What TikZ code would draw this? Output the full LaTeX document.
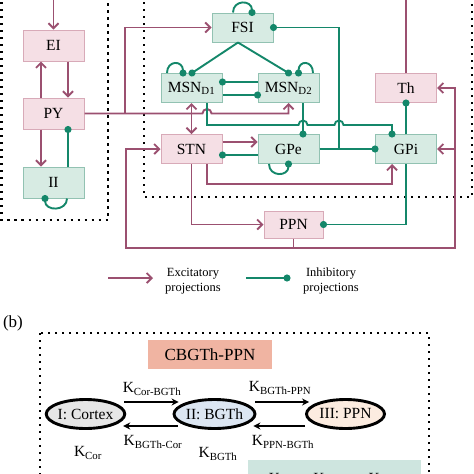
\documentclass[tikz,border=0pt]{standalone}
\usepackage{fontspec}
\setmainfont{Liberation Serif}
\usetikzlibrary{calc,arrows.meta,shapes.geometric}
\definecolor{excline}{RGB}{155,80,112}
\definecolor{inhline}{RGB}{20,135,106}
\definecolor{pinkfill}{RGB}{245,223,229}
\definecolor{pinkedge}{RGB}{216,170,184}
\definecolor{greenfill}{RGB}{215,235,227}
\definecolor{greenedge}{RGB}{146,194,178}
\definecolor{cortexfill}{RGB}{230,230,230}
\definecolor{bgthfill}{RGB}{220,230,242}
\definecolor{ppnfill}{RGB}{252,236,224}
\definecolor{titlefill}{RGB}{240,180,162}
\definecolor{notefill}{RGB}{206,229,223}
\def\NodeFont{\fontsize{15.5}{17}\selectfont}
\def\KFont{\fontsize{15.5}{17}\selectfont}
\tikzset{
	box/.style={minimum width=61pt, minimum height=29pt, inner sep=0pt, line width=1pt},
	pink box/.style={box, draw=pinkedge, fill=pinkfill},
	green box/.style={box, draw=greenedge, fill=greenfill},
	exc/.style={draw=excline, line width=1.9pt, -{Straight Barb[length=5pt,width=10pt]}},
	exc plain/.style={draw=excline, line width=1.9pt},
	inh/.style={draw=inhline, line width=1.9pt, -{Circle[length=7pt]}, shorten >=-3.5pt},
	dotted frame/.style={draw=black, line width=2.3pt, dash pattern=on 2.3pt off 4.7pt},
	legend text/.style={align=center, font=\fontsize{12.5}{15}\selectfont},
	region/.style={ellipse, draw=black, line width=2.9pt, minimum width=78pt, minimum height=29pt, inner sep=0pt},
	title box/.style={fill=titlefill, minimum width=124pt, minimum height=29pt, font=\fontsize{17}{19}\selectfont},
	coupling/.style={draw=black, line width=1.9pt, -{Stealth[length=7pt,width=7pt]}},
	k label/.style={font=\KFont},
	note box/.style={fill=notefill, minimum width=173pt, minimum height=40pt, anchor=north, inner ysep=7pt, font=\KFont}
}

\begin{document}
\begin{tikzpicture}[x=1pt, y=-1pt, font=\NodeFont]
\useasboundingbox (0,0) rectangle (474,474);
\draw[dotted frame] (1.5,-5) rectangle (108,220);
\draw[dotted frame] (144,-5) rectangle (472,197);
\draw[dotted frame] (40,333) rectangle (429,495);

\node[pink box, minimum height=31pt] (EI) at (53.5,45.5) {EI};
\node[pink box, minimum height=31pt] (PY) at (53.5,113.5) {PY};
\node[green box, minimum height=31pt] (II) at (53.5,182.5) {II};
\node[green box] (FSI) at (242.5,27.5) {FSI};
\node[green box] (MSND1) at (191.5,88) {MSN\textsubscript{D1}};
\node[green box] (MSND2) at (288.5,88) {MSN\textsubscript{D2}};
\node[pink box] (STN) at (191.5,149) {STN};
\node[green box] (GPe) at (288.5,149) {GPe};
\node[green box] (GPi) at (406,149) {GPi};
\node[pink box] (Th) at (406,88) {Th};
\node[pink box, minimum width=59pt, minimum height=27pt] (PPN) at (293.5,224.5) {PPN};

\coordinate (cortexin) at (53.5,-3);
\coordinate (thout) at (406,-3);
\draw[exc] (cortexin) -- (EI.north);
\draw[exc plain] (Th.north) -- (thout);

\draw[exc] ([xshift=-12.5pt]PY.north) -- ([xshift=-12.5pt]EI.south);
\draw[exc] ([xshift=14.5pt]EI.south) -- ([xshift=14.5pt]PY.north);
\draw[exc] ([xshift=-12.5pt]PY.south) -- ([xshift=-12.5pt]II.north);
\draw[inh] ([xshift=14.5pt]II.north) -- ([xshift=14.5pt]PY.south);
\draw[inh] ([xshift=13.5pt]II.south) .. controls +(0,13) and +(0,13) .. ([xshift=-8.5pt]II.south);

\coordinate (pyjoin) at (MSND1.south |- PY.east);
\coordinate (fsibranch) at (125,113.5);
\draw[exc] (PY.east) -- (202.5,113.5) arc[start angle=180, end angle=360, radius=4.5] -| (MSND2.south);
\draw[exc] (pyjoin) -- (MSND1.south);
\draw[exc] (pyjoin) -- (STN.north);
\draw[exc] (fsibranch) |- (FSI.west);

\draw[inh] ([xshift=-9.5pt]FSI.north) .. controls +(0,-13) and +(0,-13) .. ([xshift=9.5pt]FSI.north);
\draw[inh] ([xshift=-4.5pt]FSI.south) -- ([xshift=0.5pt]MSND1.north);
\draw[inh] ([xshift=-4.5pt]FSI.south) -- (MSND2.north);
\draw[inh] ([xshift=-24.5pt]MSND1.north) .. controls +(0,-13) and +(0,-13) .. ([xshift=-8.5pt]MSND1.north);
\draw[inh] ([xshift=24.5pt]MSND2.north) .. controls +(0,-13) and +(0,-13) .. ([xshift=10pt]MSND2.north);
\draw[inh] ([yshift=6pt]MSND2.west) -- ([yshift=6pt]MSND1.east);
\draw[inh] ([yshift=-7pt]MSND1.east) -- ([yshift=-7pt]MSND2.west);

\draw[inh] ([xshift=15.5pt]MSND1.south) |- (298.5,125) arc[start angle=180, end angle=360, radius=4.5]
	-- (334.5,125) arc[start angle=180, end angle=360, radius=4.5] -| ([xshift=-14pt]GPi.north);
\draw[inh] ([xshift=14.5pt]MSND2.south) -- ([xshift=14.5pt]GPe.north);
\draw[exc] ([yshift=7pt]STN.east) -- ([yshift=7pt]GPe.west);
\draw[inh] ([yshift=-6pt]GPe.west) -- ([yshift=-6pt]STN.east);
\draw[inh] ([xshift=-19.5pt]GPe.south) .. controls +(0,13) and +(0,13) .. (GPe.south);
\coordinate (gpejoin) at (339,149);
\draw[inh] (GPe.east) -- (GPi.west);
\draw[inh] (gpejoin) |- (FSI.east);
\draw[inh] (GPi.north) -- (Th.south);

\draw[exc] ([xshift=15.5pt]STN.south) -- ++(0,20) -| ([xshift=-14pt]GPi.south);
\draw[exc] (STN.south) |- (PPN.west);
\draw[inh] (GPi.south) |- (PPN.east);

\coordinate (busL) at (126,248);
\coordinate (busR) at (455,248);
\draw[exc] (PPN.south) -- (PPN.south |- busL) -- (busL) |- (STN.west);
\draw[exc] (PPN.south |- busL) -- (busR) |- (Th.east);
\draw[exc] (GPi.east -| busR) -- (GPi.east);

\coordinate (excA) at (108,278);
\coordinate (excB) at (153,278);
\coordinate (inhA) at (246,278);
\coordinate (inhB) at (287,278);
\draw[exc] (excA) -- (excB);
\draw[inh] (inhA) -- (inhB);
\node[legend text] (exctext) at (193,281) {Excitatory\\projections};
\node[legend text] (inhtext) at (331,281) {Inhibitory\\projections};

\node[font=\fontsize{17}{19}\selectfont] (partb) at (13,323) {(b)};
\node[title box] (Title) at (210,354.5) {CBGTh-PPN};
\foreach \name/\lab/\x/\col in {Cortex/I: Cortex/85.5/cortexfill, BGTh/II: BGTh/214.5/bgthfill, PPNpop/III: PPN/345.5/ppnfill}
	\node[region, fill=\col] (\name) at (\x,414) {\lab};
\draw[coupling] ($(Cortex.east)+(-2,-12)$) -- ($(BGTh.west)+(6,-12)$);
\draw[coupling] ($(BGTh.west)+(5,12)$) -- ($(Cortex.east)+(-3,12)$);
\draw[coupling] ($(BGTh.east)+(-1,-12)$) -- ($(PPNpop.west)+(4,-12)$);
\draw[coupling] ($(PPNpop.west)+(0,12)$) -- ($(BGTh.east)+(-3,12)$);
\node[k label] (kcb) at (152,389) {K\textsubscript{Cor-BGTh}};
\node[k label] (kbc) at (153,442) {K\textsubscript{BGTh-Cor}};
\node[k label] (kbp) at (280,388) {K\textsubscript{BGTh-PPN}};
\node[k label] (kpb) at (283,442) {K\textsubscript{PPN-BGTh}};
\node[k label] (kc) at (88,453) {K\textsubscript{Cor}};
\node[k label] (kb) at (218,454) {K\textsubscript{BGTh}};
\node[note box] (Note) at (334.5,460) {K\textsubscript{Cor} = K\textsubscript{BGTh} = K\textsubscript{PPN}};
\end{tikzpicture}
\end{document}
